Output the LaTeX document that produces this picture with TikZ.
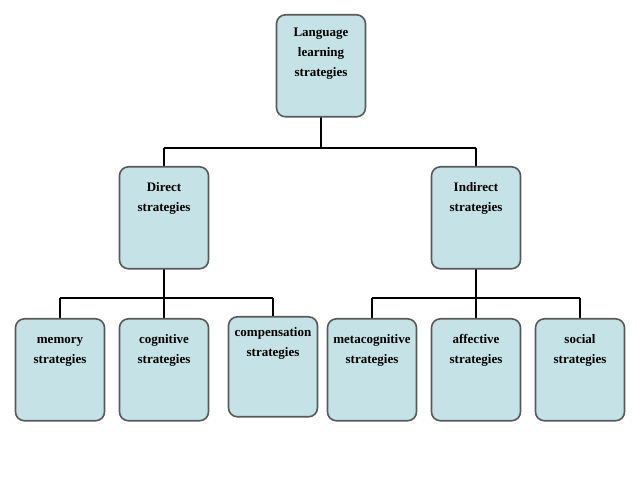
\documentclass[tikz,border=0pt]{standalone}
\usepackage{fontspec}
\setmainfont{Liberation Serif}
\begin{document}
\begin{tikzpicture}[x=1pt,y=-1pt,
  box/.style={draw=black!65,line width=1.6pt,fill={rgb,255:red,197;green,227;blue,230},rounded corners=9pt,minimum width=89pt,minimum height=102pt,align=center,font=\bfseries\fontsize{13}{20}\selectfont,text width=87pt,inner sep=1pt},
  conn/.style={line width=2.6pt,black}]
\useasboundingbox (0,0) rectangle (638,478);
\draw[conn] (321,116) -- (321,148) coordinate (t);
\draw[conn] (164,148) -- (476,148);
\draw[conn] (164,148) -- (164,166);
\draw[conn] (476,148) -- (476,166);
\draw[conn] (164,268) -- (164,298);
\draw[conn] (60,298) -- (273,298);
\foreach \x in {60,164,273} \draw[conn] (\x,298) -- (\x,318);
\draw[conn] (476,268) -- (476,298);
\draw[conn] (372,298) -- (580,298);
\foreach \x in {372,476,580} \draw[conn] (\x,298) -- (\x,318);
\node[box,anchor=north] (top) at (321,14) {\vspace{-36pt}\\Language\\learning\\strategies};
\node[box,anchor=north] (dir) at (164,166) {\vspace{-46pt}\\Direct\\strategies};
\node[box,anchor=north] (ind) at (476,166) {\vspace{-46pt}\\Indirect\\strategies};
\node[box,anchor=north] (mem) at (60,318) {\vspace{-46pt}\\memory\\strategies};
\node[box,anchor=north] (cog) at (164,318) {\vspace{-46pt}\\cognitive\\strategies};
\node[box,anchor=north,minimum height=100pt] (com) at (273,316) {\vspace{-50pt}\\compensation\\strategies};
\node[box,anchor=north] (met) at (372,318) {\vspace{-46pt}\\metacognitive\\strategies};
\node[box,anchor=north] (aff) at (476,318) {\vspace{-46pt}\\affective\\strategies};
\node[box,anchor=north] (soc) at (580,318) {\vspace{-46pt}\\social\\strategies};
\end{tikzpicture}
\end{document}
